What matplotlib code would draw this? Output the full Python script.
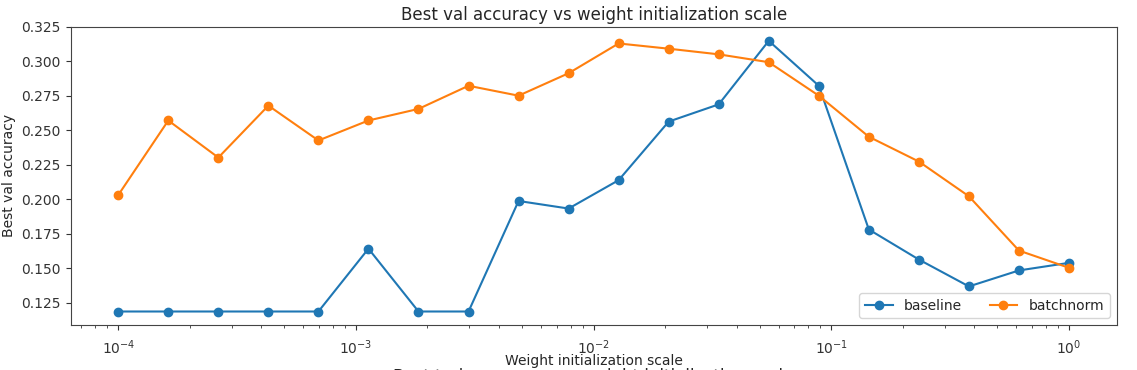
import numpy as np
import matplotlib
matplotlib.use("Agg")
import matplotlib.pyplot as plt

weight_scales = np.logspace(-4, 0, 20)
baseline_acc = [0.1185, 0.1185, 0.1185, 0.1185, 0.1185, 0.1641, 0.1185, 0.1185,
                0.1987, 0.1932, 0.2138, 0.2563, 0.2688, 0.3149, 0.2823, 0.1780,
                0.1562, 0.1367, 0.1483, 0.1538]
batchnorm_acc = [0.2030, 0.2571, 0.2302, 0.2679, 0.2426, 0.2571, 0.2655, 0.2823,
                 0.2751, 0.2914, 0.3130, 0.3092, 0.3051, 0.2994, 0.2751, 0.2453,
                 0.2273, 0.2021, 0.1627, 0.1502]
series_labels = ["baseline", "batchnorm"]

plt.rcParams["text.color"] = "#262626"
plt.rcParams["axes.labelcolor"] = "#262626"
plt.rcParams["xtick.color"] = "#333333"
plt.rcParams["ytick.color"] = "#333333"
plt.rcParams["axes.edgecolor"] = "#444444"

fig = plt.figure(figsize=(11.37, 3.70), dpi=100)
ax = fig.add_axes([0.0622, 0.1216, 0.982 - 0.0622, 0.928 - 0.1216])
ax.semilogx(weight_scales, baseline_acc, "-o", label=series_labels[0], color="#1f77b4")
ax.semilogx(weight_scales, batchnorm_acc, "-o", label=series_labels[1], color="#ff7f0e")
ax.set_title("Best val accuracy vs weight initialization scale", pad=5)
ax.set_xlabel("Weight initialization scale", labelpad=-2)
ax.set_ylabel("Best val accuracy")
ax.set_yticks([0.125, 0.150, 0.175, 0.200, 0.225, 0.250, 0.275, 0.300, 0.325])
ax.set_ylim(0.1087, 0.3252)
ax.tick_params(axis="x", which="major", pad=6)
ax.legend(ncol=2, loc="lower right")

fig.text(0.5215, 0.005, "Best train accuracy vs weight initialization scale",
         ha="center", va="top", fontsize=12)

fig.savefig("out.png", dpi=100)
